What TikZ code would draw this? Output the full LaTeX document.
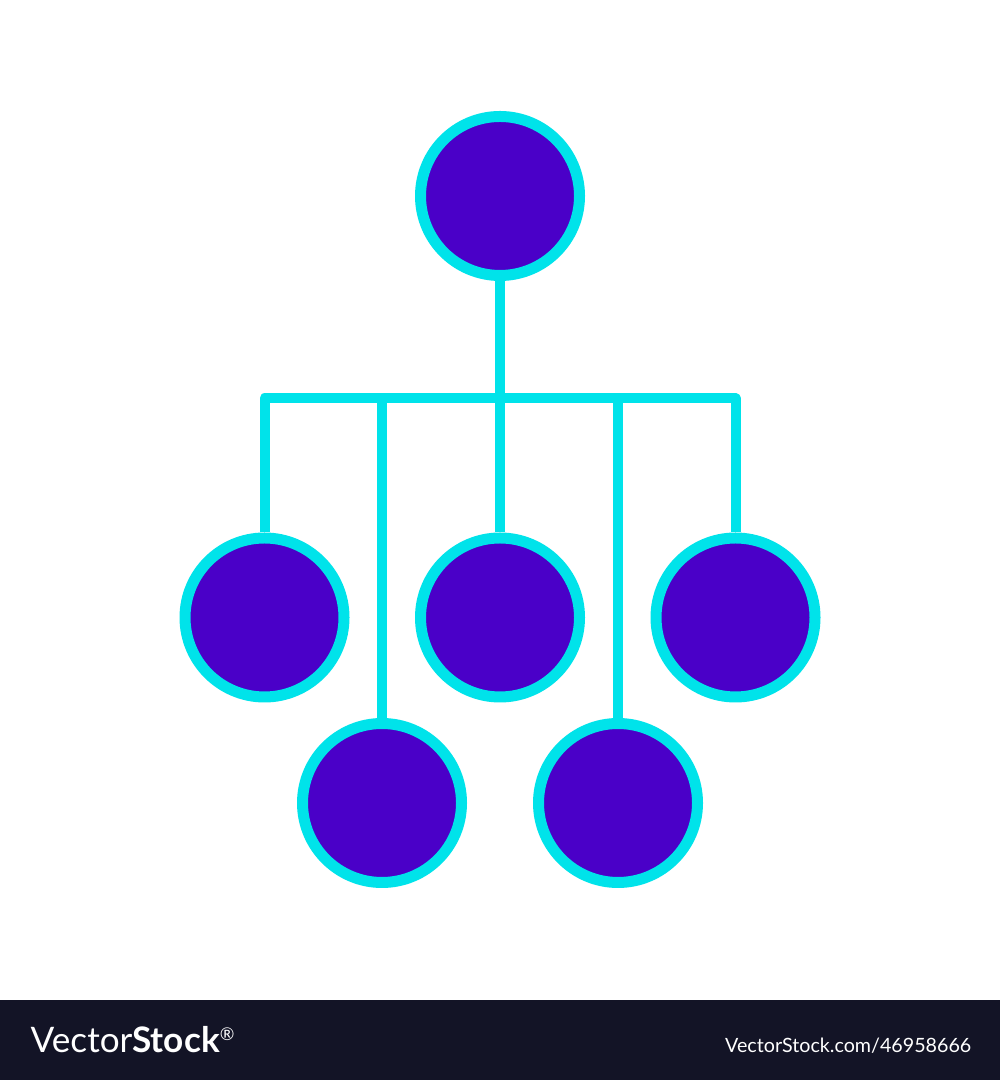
\documentclass[tikz,border=0pt]{standalone}
\usepackage{fontspec}
\setmainfont{Lato}
\definecolor{ringc}{HTML}{00E3EA}
\definecolor{dotc}{HTML}{4A00C8}
\definecolor{barc}{HTML}{131426}
\tikzset{
	n/.style = {circle, draw=ringc, fill=dotc, line width=1.1mm, minimum size=15.9mm, inner sep=0pt},
	link/.style = {draw=ringc, line width=1mm, line join=round}
}
\begin{document}
\begin{tikzpicture}
	\useasboundingbox (0,0) rectangle (10,10.8);
	\fill[white] (0,0) rectangle (10,10.8);
	\coordinate (bar) at (5,6.815);
	\node[n] (root) at (5,8.84) {};
	\node[n] (m1) at (2.645,4.625) {};
	\node[n] (m2) at (5,4.625) {};
	\node[n] (m3) at (7.355,4.625) {};
	\node[n] (b1) at (3.82,2.77) {};
	\node[n] (b2) at (6.18,2.77) {};
	\draw[link] (m1.north) |- (bar) -| (m3.north);
	\draw[link] (root) -- (m2);
	\draw[link] (b1.north) -- (b1.north |- bar);
	\draw[link] (b2.north) -- (b2.north |- bar);
	% footer
	\fill[barc] (0,0) rectangle (10,0.8);
	\node[anchor=base west, text=white, inner sep=0pt, font=\fontsize{10}{12}\selectfont] (logo) at (0.3,0.27) {Vector\textbf{Stock}\textsuperscript{\tiny ®}};
	\node[anchor=base east, text=white, inner sep=0pt, font=\fontsize{5.6}{7}\selectfont] (url) at (9.72,0.27) {VectorStock.com/46958666};
\end{tikzpicture}
\end{document}
